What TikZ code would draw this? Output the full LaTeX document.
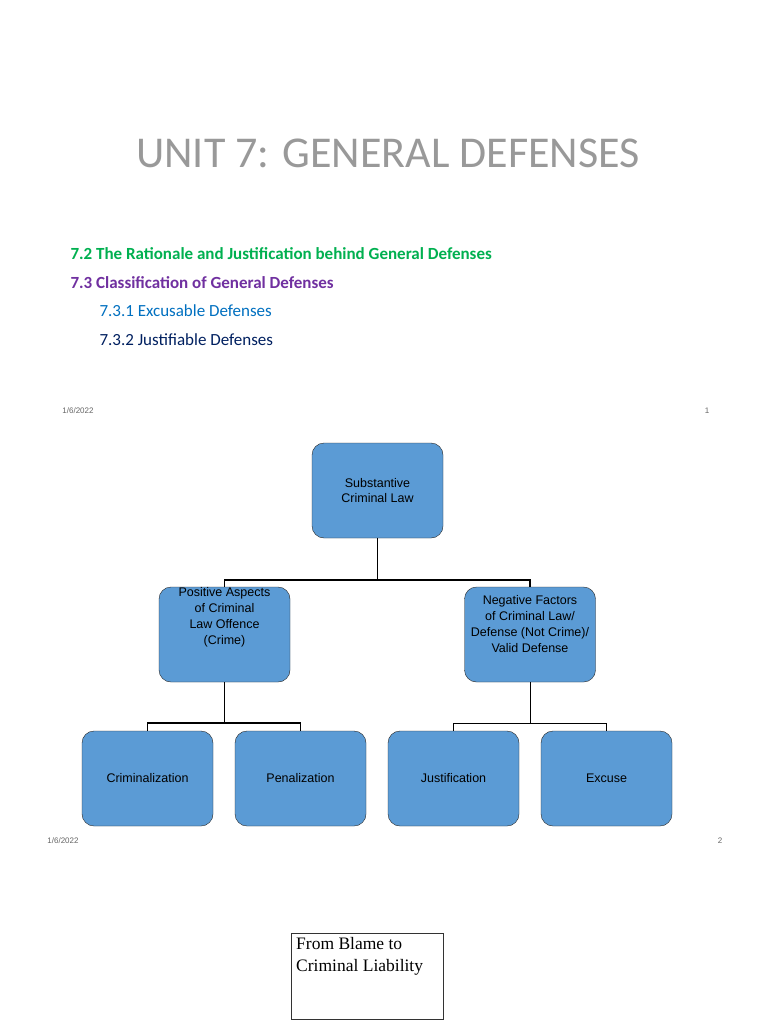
\documentclass[tikz,border=0pt]{standalone}
\usepackage{fontspec}
\setmainfont{Liberation Serif}
\newfontfamily\calfont{Carlito}
\newfontfamily\ari{Liberation Sans}
\begin{document}
\begin{tikzpicture}[x=1pt,y=-1pt,
 box/.style={draw=black!85,fill={rgb,255:red,91;green,155;blue,213},rounded corners=12pt,minimum width=131pt,minimum height=95pt,align=center,font=\ari\fontsize{12.5}{15}\selectfont,inner sep=2pt},
 conn/.style={line width=1.6pt},
 thin/.style={line width=1pt},
 date/.style={font=\ari\fontsize{8}{9}\selectfont,text=black!60}]
\useasboundingbox (0,0) rectangle (768,1024);
\fill[white] (0,0) rectangle (768,1024);
\node[font=\calfont\fontsize{44}{50}\selectfont,text=black!40] (title) at (388,153) {UNIT 7: GENERAL DEFENSES};
\begin{scope}[every node/.style={anchor=west,font=\calfont\fontsize{17}{20}\selectfont}]
\node[text={rgb,255:red,0;green,176;blue,80},font=\calfont\bfseries\fontsize{17}{20}\selectfont] (l1) at (67,254) {7.2 The Rationale and Justification behind General Defenses};
\node[text={rgb,255:red,112;green,48;blue,160},font=\calfont\bfseries\fontsize{17}{20}\selectfont] (l2) at (67,283) {7.3 Classification of General Defenses};
\node[text={rgb,255:red,0;green,112;blue,192}] (l3) at (96,311) {7.3.1 Excusable Defenses};
\node[text={rgb,255:red,0;green,32;blue,96}] (l4) at (96,340) {7.3.2 Justifiable Defenses};
\end{scope}
\node[date] (d1) at (78,411) {1/6/2022};
\node[date] (n1) at (707,411) {1};
\node[date] (d2) at (63,841) {1/6/2022};
\node[date] (n2) at (720,841) {2};
\node[box] (top) at (377.5,490.5) {Substantive\\Criminal Law};
\node[box] (pos) at (224.5,634.5) {};
\node[align=center,anchor=north,font=\ari\fontsize{12.5}{16}\selectfont] (post) at (224.5,584) {Positive Aspects\\of Criminal\\Law Offence\\(Crime)};
\node[box] (neg) at (530,634.5) {};
\node[align=center,anchor=north,font=\ari\fontsize{12.5}{16}\selectfont] (negt) at (530,592) {Negative Factors\\of Criminal Law/\\Defense (Not Crime)/\\Valid Defense};
\node[box] (b1) at (147.5,778.5) {Criminalization};
\node[box] (b2) at (300.5,778.5) {Penalization};
\node[box] (b3) at (453.5,778.5) {Justification};
\node[box] (b4) at (606.5,778.5) {Excuse};
\draw[conn] (top.south) -- ++(0,42) coordinate (j1);
\draw[conn] (pos.north) |- (j1) -| (neg.north);
\draw[conn] (pos.south) -- ++(0,41) coordinate (j2);
\draw[conn] (b1.north) |- (j2) -| (b2.north);
\draw[thin] (neg.south) -- ++(0,41) coordinate (j3);
\draw[thin] (b3.north) |- (j3) -| (b4.north);
\draw[black!80] (291,933) rectangle (443,1019);
\node[anchor=north west,align=left,font=\fontsize{17.5}{22}\selectfont,inner sep=0pt] (fb) at (296,937) {From Blame to\\Criminal Liability};
\end{tikzpicture}
\end{document}
